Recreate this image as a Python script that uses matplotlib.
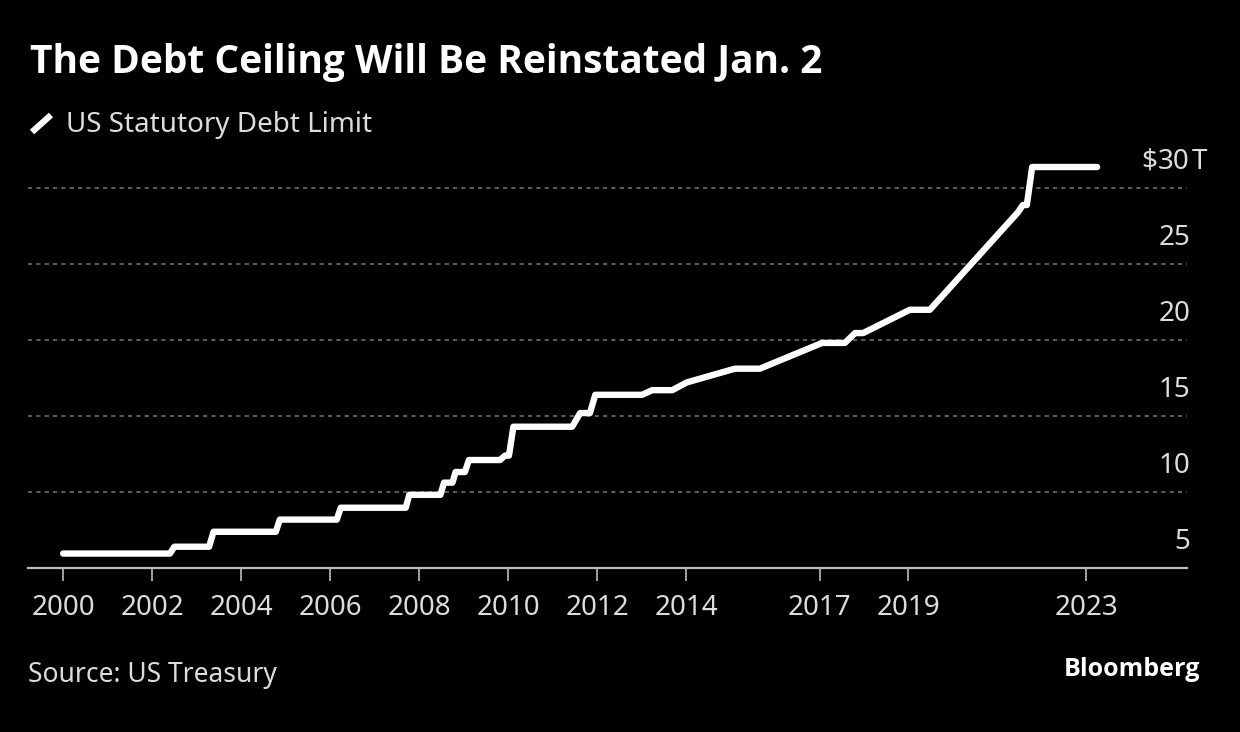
import numpy as np
import matplotlib
matplotlib.use("Agg")
import matplotlib.pyplot as plt
import matplotlib.transforms as mtransforms

# statutory debt limit, $ trillions (decimal years)
dates = [2000.0, 2002.40, 2002.50, 2003.28, 2003.38, 2004.78, 2004.87, 2006.15, 2006.24,
         2007.70, 2007.78, 2008.48, 2008.56, 2008.75, 2008.82, 2009.03, 2009.12,
         2009.82, 2009.93, 2010.02, 2010.12, 2011.44, 2011.62, 2011.84, 2011.96,
         2013.01, 2013.24, 2013.69, 2014.02, 2015.10, 2015.66, 2017.06, 2017.57,
         2017.80, 2017.98, 2019.03, 2019.48, 2021.46, 2021.57, 2021.66, 2021.78, 2023.24]
limit = [5.95, 5.95, 6.40, 6.40, 7.384, 7.384, 8.184, 8.184, 8.965,
         8.965, 9.815, 9.815, 10.615, 10.615, 11.315, 11.315, 12.104,
         12.104, 12.394, 12.394, 14.294, 14.294, 15.194, 15.194, 16.394,
         16.394, 16.699, 16.699, 17.212, 18.113, 18.113, 19.809, 19.809,
         20.456, 20.456, 21.988, 21.988, 28.401, 28.88, 28.88, 31.381, 31.381]

xticks = [2000, 2002, 2004, 2006, 2008, 2010, 2012, 2014, 2017, 2019, 2023]
yticks = [5, 10, 15, 20, 25, 30]

plt.rcParams['font.family'] = ['Noto Sans', 'DejaVu Sans']
bold_font = ['Open Sans', 'Lato', 'DejaVu Sans']

fig = plt.figure(figsize=(12.4, 7.32), dpi=100, facecolor="black")
ax = fig.add_axes([28/1240, 1-568/732, (1187-28)/1240, 418/732])
ax.set_facecolor("black")

ax.plot(dates, limit, color="white", lw=4.6, solid_capstyle="round", solid_joinstyle="round", zorder=3)

ax.set_xlim(1999.21, 2025.26)
ax.set_ylim(5, 32.5)

for v in yticks[1:]:
    ax.axhline(v, color="#6e6e6e", lw=1.2, ls=(0, (2.5, 2.5)), zorder=1)

for s in ["top", "left", "right"]:
    ax.spines[s].set_visible(False)
ax.spines["bottom"].set_color("#bdbdbd")
ax.spines["bottom"].set_linewidth(1.6)

ax.set_xticks(xticks)
ax.set_xticklabels([str(t) for t in xticks])
ax.tick_params(axis="x", colors="#bdbdbd", length=9, width=1.2, pad=10, labelsize=20, labelcolor="#dcdcdc")
ax.set_yticks([])

# y labels on the right, above each gridline
tr = mtransforms.blended_transform_factory(fig.transFigure, ax.transData)
for v in yticks:
    ax.text(1190/1240, v + 1.25, str(v), transform=tr, ha="right", va="baseline",
            fontsize=20, color="#dcdcdc", clip_on=False)
ax.text(1157/1240, 30 + 1.25, "$", transform=tr, ha="right", va="baseline",
        fontsize=20, color="#dcdcdc", clip_on=False)
ax.text(1192/1240, 30 + 1.25, "T", transform=tr, ha="left", va="baseline",
        fontsize=20, color="#dcdcdc", clip_on=False)

fig.text(30/1240, 1-63/732, "The Debt Ceiling Will Be Reinstated Jan. 2", color="white",
         fontsize=28, fontweight="bold", family=bold_font, ha="left", va="center")

# legend marker + label
fig.add_artist(plt.Line2D([32/1240, 51/1240], [1-132/732, 1-115/732], color="white",
                          lw=4.5, solid_capstyle="butt", transform=fig.transFigure))
fig.text(66/1240, 1-125/732, "US Statutory Debt Limit", color="#dcdcdc", fontsize=20,
         ha="left", va="center")

fig.text(28/1240, 1-675/732, "Source: US Treasury", color="#dcdcdc", fontsize=19,
         ha="left", va="center")
fig.text(1200/1240, 1-670/732, "Bloomberg", color="white", fontsize=18, fontweight="bold",
         family=bold_font, ha="right", va="center")

fig.savefig("out.png", dpi=100, facecolor="black")
